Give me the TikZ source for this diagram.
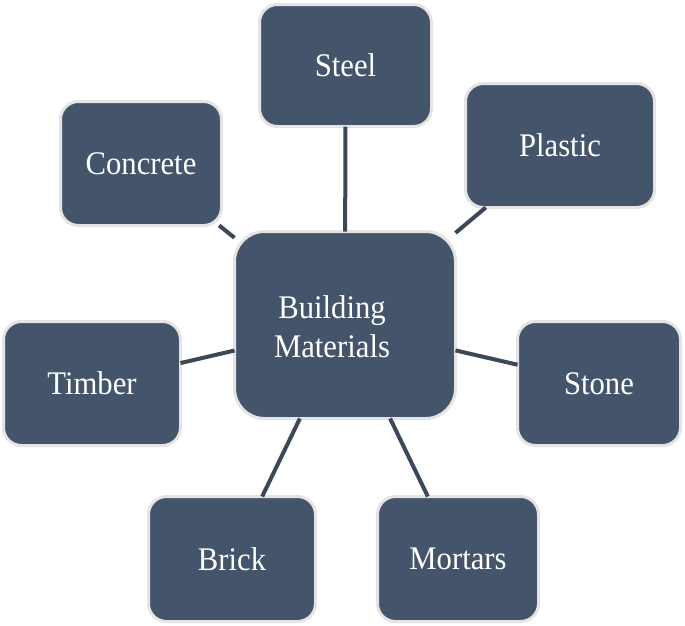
\documentclass[tikz,border=0pt]{standalone}
\usepackage{fontspec}
\setmainfont{Liberation Serif}[FakeStretch=0.93]
\definecolor{boxfill}{HTML}{44546A}
\definecolor{boxedge}{HTML}{E4E4E4}
\definecolor{linkcol}{HTML}{3B4859}
\tikzset{
  mat/.style={draw=boxedge, line width=3pt, fill=boxfill, rounded corners=18pt,
    text=white, font=\fontsize{33}{39}\selectfont, inner sep=0pt, outer sep=0pt},
  link/.style={draw=linkcol, line width=4pt},
  txt/.style={text=white, font=\fontsize{33}{39}\selectfont, inner sep=0pt, align=center}
}
\begin{document}
\begin{tikzpicture}[x=1pt,y=-1pt]
\useasboundingbox (0,0) rectangle (685,625);
% centre box (text placed separately for its left offset)
\node[mat, rounded corners=30pt, minimum width=221pt, minimum height=187pt] (c) at (345,325) {};
\node[mat, minimum width=172pt, minimum height=122pt] (steel) at (345.5,65.5) {Steel};
\node[mat, minimum width=189pt, minimum height=124pt] (plastic) at (560,145.5) {Plastic};
\node[mat, minimum width=161pt, minimum height=124pt] (concrete) at (141,163.5) {Concrete};
\node[mat, minimum width=177pt, minimum height=124pt] (timber) at (92,383.5) {Timber};
\node[mat, minimum width=163pt, minimum height=124pt] (stone) at (599,383.5) {Stone};
\node[mat, minimum width=167pt, minimum height=125pt] (brick) at (232,559) {Brick};
\node[mat, minimum width=161pt, minimum height=125pt] (mortars) at (458,559) {Mortars};
\node[txt] (ctext) at (332,327) {Building\\Materials};
\draw[link] (c) -- (steel);
\draw[link] (c) -- (plastic);
\draw[link] (c) -- (concrete);
\draw[link] (c) -- (timber);
\draw[link] (c) -- (stone);
\draw[link] (c) -- (brick);
\draw[link] (c) -- (mortars);
\end{tikzpicture}
\end{document}
